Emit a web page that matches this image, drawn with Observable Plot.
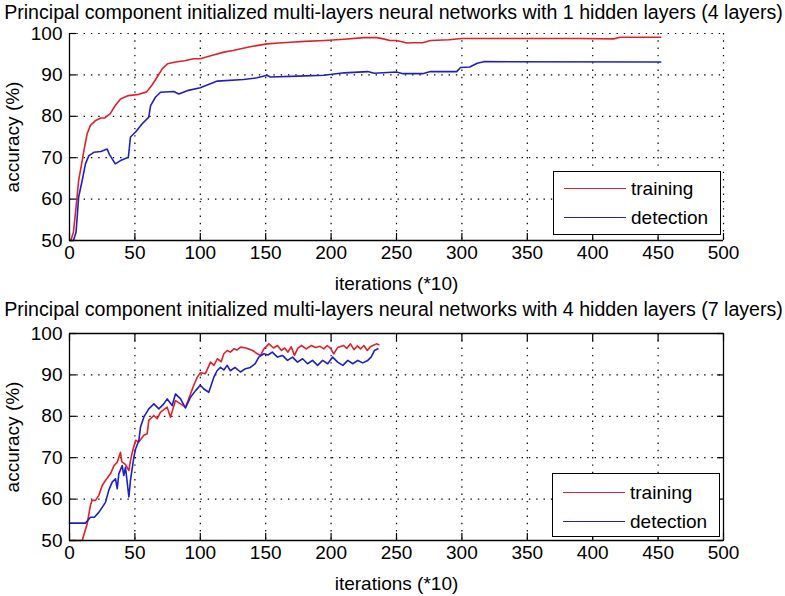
<!DOCTYPE html>
<html><head><meta charset="utf-8">
<script src="https://cdn.jsdelivr.net/npm/d3@7"></script>
<script src="https://cdn.jsdelivr.net/npm/@observablehq/plot@0.6"></script>
<style>
body{margin:0;background:#fff;font-family:"Liberation Sans",Arial,sans-serif;}
#wrap{position:relative;width:785px;height:596px;overflow:hidden;}
svg{display:block}
.legend{position:absolute;border:1.3px solid #000;background:#fff;box-sizing:border-box;font-size:19px;color:#000;}
.row{display:flex;align-items:center;height:29px;}
.sw{display:inline-block;width:62px;height:0;border-top:1.6px solid;margin-right:5px;}
</style></head><body><div id="wrap"></div>
<script>
const xTicks = [0, 50, 100, 150, 200, 250, 300, 350, 400, 450, 500];
const yTicks = [50, 60, 70, 80, 90, 100];
const seriesNames = ["training", "detection"];
const seriesColors = ["#e0202a", "#1f1fc8"];
const titles = [
  "Principal component initialized multi-layers neural networks with 1 hidden layers (4 layers)",
  "Principal component initialized multi-layers neural networks with 4 hidden layers (7 layers)"
];
const xLabel = "iterations (*10)";
const yLabel = "accuracy (%)";

// Top panel (1 hidden layer)
const topTraining = [[1,50],[3,52],[5,58],[7,64.5],[9,68],[11,71.7],[13.5,75.8],[16,77.8],[20,79],[24,79.6],[27,79.6],[31,80.6],[35,82.6],[39,84.2],[45,85],[53,85.3],[59,85.9],[63,87.5],[67,89.5],[71,91.5],[75,92.7],[81,93.1],[88,93.4],[95,93.9],[100,93.9],[110,94.8],[118,95.5],[125,95.9],[131,96.3],[140,96.9],[151,97.5],[160,97.7],[169,97.9],[180,98.1],[195,98.3],[210,98.6],[225,99],[235,99],[240,98.7],[245,98.3],[250,98.3],[258,97.7],[263,97.75],[270,97.75],[276,98.3],[290,98.5],[300,98.8],[330,98.8],[360,98.8],[390,98.8],[416,98.7],[421,99.1],[452,99.1]];
const topDetection = [[0,50],[3,50],[5,52],[7,60.5],[9.7,64.5],[12.2,68.5],[14.8,70.5],[18.6,71.3],[24,71.5],[28.8,72.1],[30.5,70.8],[35,68.5],[39,69.3],[45,70.1],[46.6,75],[50.5,76.2],[55.6,78.2],[60.6,79.8],[62,82.6],[65.7,84.6],[69.6,85.8],[79.7,86],[83.6,85.4],[90,86.2],[100,86.9],[113,88.5],[133,88.9],[143.5,89.3],[151,89.9],[153.5,89.5],[175,89.7],[194.5,89.9],[210,90.5],[228,90.8],[233,90.4],[250,90.7],[255,90.3],[270,90.3],[276,90.8],[296,90.8],[299,91.8],[306,91.9],[311.7,92.8],[316.8,93.2],[452,93.1]];

// Bottom panel (4 hidden layers)
const botTraining = [[0,50],[9.7,50],[13.5,54],[16,58.5],[17.3,59.7],[19.9,59.7],[22.4,60.9],[25,63.3],[27.5,64.5],[31.3,66.1],[34,68.1],[36.5,68.9],[39,71.3],[40,69],[42.8,68.4],[45.4,66.9],[46.6,69.3],[48,71.3],[50.5,74.2],[53,73.8],[56.8,75.4],[59.4,75.8],[60.6,79],[64.5,80.2],[67,79.4],[69.6,81],[74.7,82.2],[77.2,79.8],[81,83.8],[84.9,83],[88.7,82.2],[92.5,85.4],[95,87.5],[97.6,89.4],[100,90.5],[103.9,90.3],[107.8,93.1],[110.4,92.3],[113,93.9],[116,93.2],[118,95.1],[120.6,95.9],[123,95.5],[125.7,96.3],[128,96],[130.8,96.7],[135,96.5],[140,95.9],[143.6,95.1],[146,94.7],[148.6,96.3],[150,96.7],[152.5,97.5],[156,96.5],[159,97.1],[162,95.9],[164.5,96.5],[167,95.5],[169.5,96.8],[172,94.7],[174.5,96.4],[177.3,97.1],[181,96.3],[184.9,97.1],[188,96.6],[191.5,96.9],[194.5,96.3],[197,97.1],[199.6,96.4],[202,95.1],[205,96.6],[209.6,97.1],[212,96.4],[214.8,97.5],[217.5,96.1],[220,97],[222.6,96.3],[225,97.1],[227.7,95.9],[230,96.8],[232,97.1],[234.6,97.5],[236.5,97.3]];
const botDetection = [[0,54.2],[12.2,54.2],[16,55.6],[19,55.6],[22.4,56.8],[25,58],[27.5,59.2],[30,62.1],[32.6,64.1],[35.2,64.9],[36.5,62.5],[37.7,66.1],[40.3,68.1],[41.5,65.7],[42.8,67.7],[45.4,60.5],[46.6,64.5],[49.2,70.1],[50.5,72.1],[53,74.1],[54.3,77.4],[56.8,79.8],[60.6,81.8],[64.5,83],[68.3,81.8],[72.1,83],[74.7,84.2],[78.5,82.6],[81,85.4],[84.9,84.2],[88.7,82],[92.5,84.6],[96.4,86.2],[100,87.5],[102.7,86.6],[106.5,85.8],[110.3,89.4],[112.8,91],[115.4,91.8],[118,91.2],[120.5,92.3],[123,91],[126.5,91.8],[130.7,90.7],[134.5,91.5],[138.3,91.8],[142,92.7],[144.7,94.3],[148.6,95.1],[151.8,94.8],[155,95.5],[159,94.3],[162.8,94.7],[166.7,93.5],[170.5,94.3],[174.3,93.1],[178.2,93.9],[182,92.7],[185.8,93.5],[189.7,92.3],[193.5,93.5],[197.4,92.7],[201.2,94.3],[205,93.1],[209,92.3],[212.8,93.5],[216.6,92.7],[220.4,93.5],[224.2,92.9],[228,93.5],[230.6,94.3],[233.2,95.9],[235.8,96.3]];

const FONT = '"Liberation Sans", Arial, sans-serif';
const dots = {stroke: "#000", strokeOpacity: 1, strokeWidth: 1.2, strokeDasharray: "1.4,5.9"};

function panel({title, training, detection, boxed, marginTop, marginBottom, titleDy}) {
  const xMin = xTicks[0], xMax = xTicks[xTicks.length - 1];
  const yMin = yTicks[0], yMax = yTicks[yTicks.length - 1];
  const gx = boxed ? xTicks.filter(v => v > xMin && v < xMax) : xTicks.filter(v => v > xMin);
  const gy = boxed ? yTicks.filter(v => v > yMin && v < yMax) : yTicks.filter(v => v > yMin);
  const marks = [
    Plot.gridX(gx, dots),
    Plot.gridY(gy, dots),
    Plot.line(training, {x: d => d[0], y: d => d[1], stroke: seriesColors[0], strokeWidth: 1.6}),
    Plot.line(detection, {x: d => d[0], y: d => d[1], stroke: seriesColors[1], strokeWidth: 1.6}),
    Plot.ruleY([yMin], {stroke: "#000", strokeWidth: 1.3}),
    Plot.ruleX([xMin], {stroke: "#000", strokeWidth: 1.3}),
    Plot.axisX(xTicks, {anchor: "bottom", tickSize: -7, tickPadding: 12, label: null, fontSize: 19, strokeWidth: 1.2}),
    Plot.axisY(yTicks, {anchor: "left", tickSize: -7, tickPadding: 14, label: null, fontSize: 19, strokeWidth: 1.2}),
    Plot.text([title], {text: d => d, frameAnchor: "top", lineAnchor: "top", textAnchor: "middle", dy: titleDy, dx: -3, fontSize: 19.6}),
    Plot.text([xLabel], {text: d => d, frameAnchor: "bottom", lineAnchor: "top", textAnchor: "middle", dy: 36, fontSize: 19}),
    Plot.text([yLabel], {text: d => d, frameAnchor: "left", rotate: -90, textAnchor: "middle", lineAnchor: "middle", dx: -57, fontSize: 19})
  ];
  if (boxed) {
    marks.push(
      Plot.ruleY([yMax], {stroke: "#000", strokeWidth: 1.3}),
      Plot.ruleX([xMax], {stroke: "#000", strokeWidth: 1.3}),
      Plot.axisX(xTicks, {anchor: "top", tickSize: -7, tickFormat: () => "", label: null, strokeWidth: 1.2}),
      Plot.axisY(yTicks, {anchor: "right", tickSize: -7, tickFormat: () => "", label: null, strokeWidth: 1.2})
    );
  }
  return Plot.plot({
    width: 785, height: 298,
    marginLeft: 69, marginRight: 62, marginTop, marginBottom,
    x: {domain: [xMin, xMax]},
    y: {domain: [yMin, yMax]},
    style: {fontFamily: FONT, color: "#000", background: "#fff", overflow: "visible"},
    marks
  });
}

const wrap = document.getElementById("wrap");
wrap.append(panel({title: titles[0], training: topTraining, detection: topDetection, boxed: false, marginTop: 33, marginBottom: 58, titleDy: -28}));
wrap.append(panel({title: titles[1], training: botTraining, detection: botDetection, boxed: true, marginTop: 35, marginBottom: 56, titleDy: -31}));

function legend(left, top, width, height, padTop, padLeft) {
  const box = document.createElement("div");
  box.className = "legend";
  Object.assign(box.style, {left: left + "px", top: top + "px", width: width + "px", height: height + "px", paddingTop: padTop + "px", paddingLeft: padLeft + "px"});
  seriesNames.forEach((name, i) => {
    const row = document.createElement("div");
    row.className = "row";
    const sw = document.createElement("span");
    sw.className = "sw";
    sw.style.borderTopColor = seriesColors[i];
    const t = document.createElement("span");
    t.textContent = name;
    row.append(sw, t);
    box.append(row);
  });
  wrap.append(box);
}
legend(553, 171, 168, 64, 2, 10);
legend(552, 473, 168, 64, 4, 10);
</script></body></html>
